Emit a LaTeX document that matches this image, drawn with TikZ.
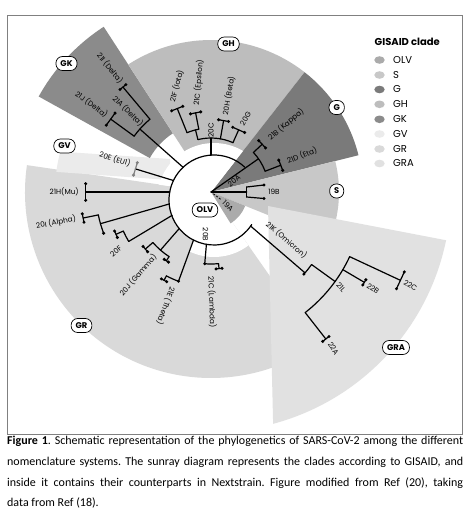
\documentclass[tikz,border=0pt]{standalone}
\usepackage{fontspec}
\setmainfont{Carlito}
\newfontfamily\pop{Poppins}
\usetikzlibrary{calc}
\definecolor{cGR}{HTML}{D9D9D9}
\definecolor{cGRA}{HTML}{E1E1E1}
\definecolor{cGV}{HTML}{EBEBEB}
\definecolor{cGK}{HTML}{8B8B8B}
\definecolor{cGH}{HTML}{BDBDBD}
\definecolor{cG}{HTML}{7A7A7A}
\definecolor{cS}{HTML}{C8C8C8}
\definecolor{cOLV}{HTML}{ABABAB}
\definecolor{frameC}{HTML}{808080}
\tikzset{
 br/.style={draw=black, line width=1.2pt, line cap=round},
 lab/.style={font=\pop\fontsize{7.3}{8}\selectfont, inner sep=0.5pt},
 pill/.style={draw=black, fill=white, line width=0.7pt, rounded corners=6.5pt, font=\pop\bfseries\fontsize{8.3}{9}\selectfont, minimum height=14pt, inner xsep=4.5pt, inner ysep=0pt},
 legtxt/.style={font=\pop\fontsize{10}{11}\selectfont, anchor=west, inner sep=0pt},
 captxt/.style={anchor=base west, inner sep=0pt, font=\fontsize{12}{14}\selectfont},
}
\newcommand\trad[3]{\draw[br] ({-(#1)}:#2) -- ({-(#1)}:#3);}
\newcommand\tcon[3]{\draw[br] ({-(#2)}:#1) arc[start angle={-(#2)}, end angle={-(#3)}, radius=#1];}
\newcommand\ttip[3]{\draw[br] ($({-(#1)}:#2)+({90-(#1)}:#3)$) -- ($({-(#1)}:#2)+({-90-(#1)}:#3)$);
 \fill ($({-(#1)}:#2)+({90-(#1)}:#3)$) circle (1.7) ($({-(#1)}:#2)+({-90-(#1)}:#3)$) circle (1.7);}
\newcommand\tdot[2]{\fill ({-(#1)}:#2) circle (1.7);}
\newcommand\wsect[4]{\fill[#1] (0,0) -- ({-(#2)}:#4) arc[start angle={-(#2)}, end angle={-(#3)}, radius=#4] -- cycle;}
\frenchspacing
\begin{document}
\begin{tikzpicture}[x=1pt,y=-1pt]
\useasboundingbox (0,0) rectangle (474,509);
\fill[white] (0,0) rectangle (474,509);
\begin{scope}[shift={(211,192)}]
 % wedges
 \wsect{cGR}{171.7}{305}{186}
 \fill[cGV] (-41,-33) -- (-165:156) arc[start angle=-165, end angle=-172.6, radius=156] -- (-41,-12) -- cycle;
 \fill[cGK] (-123:70) -- (-123:197) arc[start angle=-123, end angle=-151, radius=197] -- (-151:70) arc[start angle=-151, end angle=-123, radius=70] -- cycle;
 \wsect{cGH}{52}{123}{152}
 \wsect{cG}{14}{52}{152}
 \wsect{cS}{-22}{14}{128}
 \fill[cGRA] (57,14) -- (11.6:240) arc[start angle=11.6, end angle=75, radius=240] -- cycle;
 % white ring and disk
 \begin{scope}\clip (0,0) -- (-52:400) arc[start angle=-52,end angle=-172,radius=400] -- cycle; \fill[white] (3,8) circle (57); \end{scope}
 \begin{scope}\clip (0,0) -- (-250:400) arc[start angle=-250,end angle=-305,radius=400] -- cycle; \fill[white] (3,8) circle (57); \end{scope}
 \begin{scope}\clip (0,0) -- (-52:400) arc[start angle=-52,end angle=-302,radius=400] -- cycle; \fill[white] (3,8) circle (45); \end{scope}
 \wsect{cOLV}{-58}{-22}{37}
 % root arc
 \draw[br] ($(3,8)+(-47:45)$) arc[start angle=-47, end angle=-327, radius=45];
 % GK
 \trad{138.5}{37.3}{95} \tcon{95}{130}{144}
 \trad{130}{95}{137} \ttip{130}{137}{3.8}
 \trad{144}{95}{124} \ttip{144}{124}{7.5}
 % 20E
 \trad{163}{39.3}{79}
 \draw[line width=1.2pt, gray] ($(-163:79)+(-73:6.5)$) -- ($(-163:79)+(-253:6.5)$);
 \fill[gray] ($(-163:79)+(-73:6.5)$) circle (1.7) ($(-163:79)+(-253:6.5)$) circle (1.7);
 % 21H
 \trad{180}{41.3}{125.3} \ttip{180}{125.3}{8.3}
 % Alpha
 \trad{196}{43.5}{115} \tcon{115}{191.5}{201} \tdot{201}{115}
 \trad{191.5}{115}{130.5} \ttip{191.5}{130.5}{4.3}
 % 20F
 \trad{211}{45.3}{96} \tcon{96}{204}{211}
 \trad{204}{96}{104} \ttip{204}{104}{3.5}
 % 20J
 \trad{229}{48.4}{77} \tcon{77}{221}{237}
 \trad{221}{77}{87} \ttip{221}{87}{3.5}
 \trad{237}{77}{82} \ttip{237}{82}{2.5}
 % 21E
 \trad{250}{51.1}{95} \tcon{95}{242}{250} \tdot{250}{95}
 \trad{242}{95}{100} \ttip{242}{100}{3}
 % 21C Lambda
 \trad{265}{52.6}{72} \tdot{265}{72} \tcon{72}{265}{276}
 \trad{276}{72}{77} \ttip{276}{77}{3}
 % 20C group
 \trad{90}{36.9}{54} \tcon{54}{66}{104}
 \trad{104}{54}{64} \tcon{64}{101}{112}
 \trad{112}{64}{90} \ttip{112}{90}{6}
 \trad{101}{64}{80.6} \ttip{101}{80.6}{5.2}
 \trad{80}{54}{72.5} \ttip{80}{72.5}{5}
 \trad{66}{54}{68} \ttip{66}{68}{6.5}
 % 20A
 \trad{35}{0}{58} \tcon{58}{21}{43}
 \trad{43}{58}{70} \ttip{43}{70}{5}
 \trad{21}{58}{74.7} \ttip{21}{74.7}{5.5}
 % 19B
 \trad{0}{0}{35.7}
 \draw[br] (35.7,-5) -- (35.7,5);
 \draw[br] (35.7,-5) -- (53,-7);
 \draw[br] (35.7,5) -- (53,6.5);
 \fill (53,-7) circle (1.7) (53,6.5) circle (1.7);
 % 19A
 \draw[line width=0.8pt, dash pattern=on 2pt off 1.5pt] (37:3) -- (37:12);
 % 21K
 \trad{-40.7}{52.3}{124} \tcon{124}{-41.5}{-35.8} \tdot{-41.5}{124}
 \trad{-35.8}{124}{153} \tcon{153}{-52}{-25}
 \trad{-25}{153}{209} \ttip{-25}{209}{9.3}
 \trad{-30.5}{153}{178} \ttip{-30.5}{178}{3}
 \trad{-52}{153}{186.5} \ttip{-52}{186.5}{4}
\end{scope}
% clade labels
\node[lab, rotate=-51] (l21I) at (110,68) {21I (Delta)};
\node[lab, rotate=-45] (l21A) at (128,111) {21A (Delta)};
\node[lab, rotate=-36] (l21J) at (91.5,104.5) {21J (Delta)};
\node[lab, rotate=-17] (l20E) at (115,159) {20E (EU1)};
\node[lab, anchor=east] (l21H) at (79.5,192) {21H(Mu)};
\node[lab, rotate=11] (l20I) at (56,222.5) {20I (Alpha)};
\node[lab, rotate=40] (l20F) at (116,251) {20F};
\node[lab, rotate=49] (l20J) at (138,275) {20J (Gamma)};
\node[lab, rotate=-110] (l21E) at (166,306) {21E (Theta)};
\node[lab, rotate=-88] (l21Cl) at (212,302) {21C (Lambda)};
\node[lab, rotate=-90] (l20B) at (205.5,234.5) {20B};
\node[lab, rotate=75] (l21F) at (176.5,86) {21F (Iota)};
\node[lab, rotate=85] (l21Ce) at (198.5,82.5) {21C (Epsilon)};
\node[lab, rotate=90] (l20C) at (211,130) {20C};
\node[lab, rotate=80] (l20H) at (228.5,95.5) {20H (Beta)};
\node[lab, rotate=60] (l20G) at (245.5,119) {20G};
\node[lab, rotate=40] (l21B) at (286,124.5) {21B (Kappa)};
\node[lab, rotate=22] (l21D) at (302,155.5) {21D (Eta)};
\node[lab, rotate=38] (l20A) at (234,181) {20A};
\node[lab] (l19B) at (274,191.5) {19B};
\node[lab, rotate=-45] (l19A) at (228,206) {19A};
\node[lab, rotate=-40.7] (l21K) at (286.5,240) {21K (Omicron)};
\node[lab, rotate=-48] (l21L) at (341,287.5) {21L};
\node[lab, rotate=-35] (l22B) at (373,288.5) {22B};
\node[lab, rotate=-28] (l22C) at (410.5,285) {22C};
\node[lab, rotate=-58] (l22A) at (333.5,348.5) {22A};
% GISAID pills
\node[pill] (pGK) at (66.5,63.5) {GK};
\node[pill] (pGH) at (228.5,44) {GH};
\node[pill] (pG) at (336.7,107.5) {G};
\node[pill] (pGV) at (64.5,146) {GV};
\node[pill] (pS) at (336.7,191) {S};
\node[pill] (pOLV) at (205,210) {OLV};
\node[pill] (pGR) at (81.5,325.5) {GR};
\node[pill] (pGRA) at (396,347.5) {GRA};
% legend
\node[font=\pop\bfseries\fontsize{10}{11}\selectfont, anchor=west, inner sep=0pt] (legT) at (374.5,42) {GISAID clade};
\foreach \yy/\cc/\tt [count=\i] in {60/cOLV/OLV, 75/cS/S, 89.5/cG/G, 104.3/cGH/GH, 119.3/cGK/GK, 134/cGV/GV, 149/cGR/GR, 163.5/cGRA/GRA} {
 \fill[\cc] (379.5,\yy) ellipse (5.2 and 3.8);
 \node[legtxt] (leg\i) at (393,\yy) {\tt};
}
% frame
\draw[frameC, line width=1pt] (7,15) rectangle (462.5,434);
% caption
\node[captxt] (cap1) at (7,444.6) {\makebox[456pt][s]{\textbf{Figure 1}. Schematic representation of the phylogenetics of SARS-CoV-2 among the different}};
\node[captxt] (cap2) at (7,465.3) {\makebox[456pt][s]{nomenclature systems. The sunray diagram represents the clades according to GISAID, and}};
\node[captxt] (cap3) at (7,486) {\makebox[456pt][s]{inside it contains their counterparts in Nextstrain. Figure modified from Ref (20), taking}};
\node[captxt] (cap4) at (7,506.3) {data from Ref (18).};
\end{tikzpicture}
\end{document}
